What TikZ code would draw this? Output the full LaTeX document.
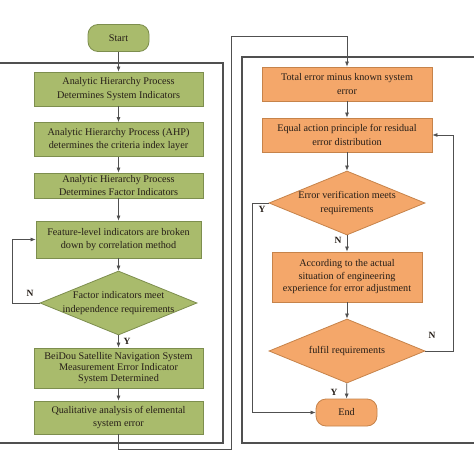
\documentclass[tikz,border=0pt]{standalone}
\usepackage{xcolor}
\usepackage{fontspec}
\setmainfont{Liberation Serif}
\usepackage{tikz}
\usetikzlibrary{positioning, arrows.meta, shapes.geometric}
\definecolor{boxgreen}{HTML}{A9BB6C}
\definecolor{edgegreen}{HTML}{7D8E4E}
\definecolor{boxorange}{HTML}{F4A76A}
\definecolor{edgeorange}{HTML}{C6834A}
\definecolor{framegray}{HTML}{505050}
\definecolor{textdark}{HTML}{261E18}

\tikzset{
  boxtext/.style={text=textdark, align=center, font=\fontsize{10.2}{13.5}\selectfont},
  greenbox/.style={boxtext, rectangle, fill=boxgreen, draw=edgegreen, line width=0.8pt,
                   minimum width=169pt, minimum height=34pt, inner sep=2pt},
  orangebox/.style={boxtext, rectangle, fill=boxorange, draw=edgeorange, line width=0.8pt,
                    minimum width=170pt, minimum height=34pt, inner sep=2pt},
  greendiamond/.style={boxtext, diamond, aspect=2.45, fill=boxgreen, draw=edgegreen,
                       line width=0.8pt, inner sep=-6pt, minimum width=157pt, minimum height=64pt},
  orangediamond/.style={boxtext, diamond, aspect=2.45, fill=boxorange, draw=edgeorange,
                        line width=0.8pt, inner sep=-6pt, minimum width=156pt, minimum height=64pt},
  terminal/.style={boxtext, rectangle, rounded corners=10pt, line width=0.8pt,
                   minimum width=61pt, minimum height=27pt},
  frameline/.style={draw=framegray, line width=1.3pt},
  arr/.style={draw=framegray, line width=0.7pt, -{Latex[length=5pt, width=4pt]}},
  yn/.style={text=textdark, font=\fontsize{9.5}{10}\selectfont\bfseries, inner sep=1pt}
}

\begin{document}
\begin{tikzpicture}[x=1pt, y=-1pt]
  \useasboundingbox[fill=white] (0,0) rectangle (474,474);

  % outer frames
  \draw[frameline] (0,63) -- (223,63) -- (223,443) -- (0,443);
  \draw[frameline] (474,57) -- (242,57) -- (242,443) -- (474,443);

  % left column
  \node[terminal, fill=boxgreen, draw=edgegreen] (start) at (118.5,38) {Start};
  \node[greenbox] (ahpsys) at (118.5,89) {Analytic Hierarchy Process\\Determines System Indicators};
  \node[greenbox] (ahplayer) at (118.5,139.5) {Analytic Hierarchy Process (AHP)\\determines the criteria index layer};
  \node[greenbox, minimum height=25pt] (ahpfactor) at (118.5,185.5) {Analytic Hierarchy Process\\Determines Factor Indicators};
  \node[greenbox, minimum width=165pt, minimum height=37pt] (featbreak) at (118.5,239.5) {Feature-level indicators are broken\\down by correlation method};
  \node[greendiamond] (indep) at (118.5,303) {Factor indicators meet\\independence requirements};
  \node[greenbox, minimum height=40pt, font=\fontsize{10.2}{11.2}\selectfont] (beidou) at (118.5,368) {BeiDou Satellite Navigation System\\Measurement Error Indicator\\System Determined};
  \node[greenbox, minimum height=33pt] (qualit) at (118.5,417.5) {Qualitative analysis of elemental\\system error};

  % right column
  \node[orangebox] (totalerr) at (347,84) {Total error minus known system\\error};
  \node[orangebox] (equalact) at (347,135) {Equal action principle for residual\\error distribution};
  \node[orangediamond] (verify) at (347,203) {Error verification meets\\requirements};
  \node[orangebox, minimum width=150pt, minimum height=50pt, font=\fontsize{10.2}{12.5}\selectfont] (adjust) at (347,277) {According to the actual\\situation of engineering\\experience for error adjustment};
  \node[orangediamond] (fulfil) at (347,351) {fulfil requirements};
  \node[terminal, fill=boxorange, draw=edgeorange] (end) at (346.5,412.5) {End};

  \coordinate (jbot) at (231,449);
  \coordinate (jtop) at (231,36);

  % connectors, left
  \draw[arr] (start) -- (ahpsys);
  \draw[arr] (ahpsys) -- (ahplayer);
  \draw[arr] (ahplayer) -- (ahpfactor);
  \draw[arr] (ahpfactor) -- (featbreak);
  \draw[arr] (featbreak) -- (indep);
  \draw[arr] (indep) -- (beidou);
  \draw[arr] (beidou) -- (qualit);
  \draw[arr] (indep.west) -| ([xshift=-23pt]featbreak.west) -- (featbreak.west);
  \node[yn] (nleft) at (30,293) {N};
  \node[yn] (yleft) at (127,341) {Y};

  % link between columns
  \draw[arr] (qualit) -- (qualit |- jbot) -- (jbot) -- (jtop) -- (jtop -| totalerr) -- (totalerr);

  % connectors, right
  \draw[arr] (totalerr) -- (equalact);
  \draw[arr] (equalact) -- (verify);
  \draw[arr] (verify) -- (adjust);
  \draw[arr] (adjust) -- (fulfil);
  \draw[arr] (fulfil) -- (end);
  \draw[arr] (verify.west) -- ++(-16,0) |- (end.west);
  \draw[arr] (fulfil.east) -- ++(28,0) |- (equalact.east);
  \node[yn] (yver) at (262,209) {Y};
  \node[yn] (nver) at (338,240) {N};
  \node[yn] (nful) at (432,335) {N};
  \node[yn] (yful) at (334,392) {Y};
\end{tikzpicture}
\end{document}
